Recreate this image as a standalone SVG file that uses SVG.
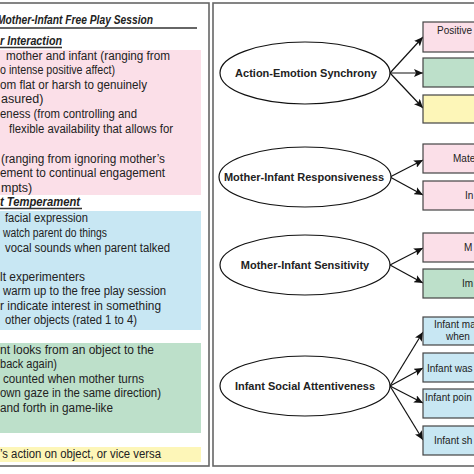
<svg xmlns="http://www.w3.org/2000/svg" width="474" height="474" viewBox="0 0 474 474">
<defs>
<marker id="ah" markerUnits="userSpaceOnUse" markerWidth="10" markerHeight="8" refX="9" refY="4" orient="auto">
<path d="M0,0 L9,4 L0,8 L2,4 Z" fill="#111"/>
</marker>
</defs>
<style>
.panel{fill:#fff;stroke:#666;stroke-width:1.6}
.t{font-family:"Liberation Sans",Arial,sans-serif;font-size:12.5px;fill:#222}
.h{font-family:"Liberation Sans",Arial,sans-serif;font-size:12.5px;font-weight:bold;font-style:italic;fill:#222}
.ul{stroke:#333;stroke-width:1.4}
.ell{fill:#fff;stroke:#111;stroke-width:1.2}
.et{font-family:"Liberation Sans",Arial,sans-serif;font-size:11px;font-weight:bold;fill:#222;text-anchor:middle}
.bx{stroke:#444;stroke-width:1.2}
.bt{font-family:"Liberation Sans",Arial,sans-serif;font-size:10px;fill:#222}
.pink{fill:#fbdfe8}
.blue{fill:#c8e7f3}
.green{fill:#bde0ca}
.yellow{fill:#fdf6b8}
.arr{stroke:#111;stroke-width:1.2;fill:none;marker-end:url(#ah)}
</style>
<rect width="474" height="474" fill="#fff"/>

<g id="left-panel">
<rect class="panel" x="-3" y="3" width="212" height="463"/>
<text class="h" x="-3" y="24" textLength="156" lengthAdjust="spacingAndGlyphs">Mother-Infant Free Play Session</text>
<line class="ul" x1="-2" y1="28" x2="197" y2="28"/>
<text class="h" x="0" y="45" textLength="62" lengthAdjust="spacingAndGlyphs">r Interaction</text>
<line class="ul" x1="0" y1="47.5" x2="62" y2="47.5"/>
<rect class="pink" x="-2" y="50" width="203" height="145"/>
<text class="t" x="6" y="60" textLength="164" lengthAdjust="spacingAndGlyphs">mother and infant (ranging from</text>
<text class="t" x="0" y="74" textLength="115" lengthAdjust="spacingAndGlyphs">o intense positive affect)</text>
<text class="t" x="0" y="89" textLength="147" lengthAdjust="spacingAndGlyphs">om flat or harsh to genuinely</text>
<text class="t" x="1" y="103">asured)</text>
<text class="t" x="0" y="118" textLength="137" lengthAdjust="spacingAndGlyphs">eness (from controlling and</text>
<text class="t" x="9" y="133" textLength="164" lengthAdjust="spacingAndGlyphs">flexible availability that allows for</text>
<text class="t" x="1" y="163" textLength="164" lengthAdjust="spacingAndGlyphs">(ranging from ignoring mother’s</text>
<text class="t" x="0" y="177" textLength="165" lengthAdjust="spacingAndGlyphs">ement to continual engagement</text>
<text class="t" x="1" y="192">mpts)</text>
<text class="h" x="0" y="206" textLength="80" lengthAdjust="spacingAndGlyphs">t Temperament</text>
<line class="ul" x1="0" y1="208.5" x2="82" y2="208.5"/>
<rect class="blue" x="-2" y="211" width="203" height="119"/>
<text class="t" x="5" y="222" textLength="83" lengthAdjust="spacingAndGlyphs">facial expression</text>
<text class="t" x="3" y="237" textLength="104" lengthAdjust="spacingAndGlyphs">watch parent do things</text>
<text class="t" x="5" y="252" textLength="165" lengthAdjust="spacingAndGlyphs">vocal sounds when parent talked</text>
<text class="t" x="0" y="281" textLength="85" lengthAdjust="spacingAndGlyphs">lt experimenters</text>
<text class="t" x="3" y="295" textLength="163" lengthAdjust="spacingAndGlyphs">warm up to the free play session</text>
<text class="t" x="0" y="310" textLength="161" lengthAdjust="spacingAndGlyphs">r indicate interest in something</text>
<text class="t" x="5" y="324" textLength="132" lengthAdjust="spacingAndGlyphs">other objects (rated 1 to 4)</text>
<rect class="green" x="-2" y="343" width="203" height="90"/>
<text class="t" x="0" y="354" textLength="154" lengthAdjust="spacingAndGlyphs">nt looks from an object to the</text>
<text class="t" x="0" y="368" textLength="57" lengthAdjust="spacingAndGlyphs">back again)</text>
<text class="t" x="3" y="383" textLength="141" lengthAdjust="spacingAndGlyphs">counted when mother turns</text>
<text class="t" x="0" y="397" textLength="161" lengthAdjust="spacingAndGlyphs">own gaze in the same direction)</text>
<text class="t" x="0" y="412" textLength="113" lengthAdjust="spacingAndGlyphs">and forth in game-like</text>
<rect class="yellow" x="-2" y="447" width="203" height="15"/>
<text class="t" x="0" y="458" textLength="161" lengthAdjust="spacingAndGlyphs">’s action on object, or vice versa</text>
</g>

<g id="right-panel">
<rect class="panel" x="213" y="3" width="265" height="463"/>
</g>

<g id="connectors">
<line class="arr" x1="390" y1="73" x2="423" y2="37"/>
<line class="arr" x1="390" y1="73" x2="423" y2="73"/>
<line class="arr" x1="390" y1="73" x2="423" y2="108"/>
<line class="arr" x1="390" y1="177" x2="423" y2="160"/>
<line class="arr" x1="390" y1="177" x2="423" y2="195"/>
<line class="arr" x1="390" y1="265" x2="423" y2="248"/>
<line class="arr" x1="390" y1="265" x2="423" y2="283"/>
<line class="arr" x1="390" y1="386" x2="423" y2="332"/>
<line class="arr" x1="390" y1="386" x2="423" y2="368"/>
<line class="arr" x1="390" y1="386" x2="423" y2="403"/>
<line class="arr" x1="390" y1="386" x2="423" y2="440"/>
</g>

<g id="n-action-emotion">
<ellipse class="ell" cx="305" cy="73" rx="85" ry="31"/>
<text class="et" x="306" y="77">Action-Emotion Synchrony</text>
</g>
<g id="n-responsiveness">
<ellipse class="ell" cx="305" cy="177" rx="86" ry="30"/>
<text class="et" x="304" y="181">Mother-Infant Responsiveness</text>
</g>
<g id="n-sensitivity">
<ellipse class="ell" cx="305" cy="265" rx="85" ry="30"/>
<text class="et" x="305" y="269">Mother-Infant Sensitivity</text>
</g>
<g id="n-attentiveness">
<ellipse class="ell" cx="305" cy="386" rx="85" ry="30"/>
<text class="et" x="305" y="390">Infant Social Attentiveness</text>
</g>

<g id="b-positive">
<rect class="bx pink" x="423" y="22" width="60" height="30"/>
<text class="bt" x="437" y="34">Positive</text>
</g>
<g id="b-green1">
<rect class="bx green" x="423" y="58" width="60" height="29"/>
</g>
<g id="b-yellow1">
<rect class="bx yellow" x="423" y="95" width="60" height="28"/>
</g>
<g id="b-maternal">
<rect class="bx pink" x="423" y="144" width="60" height="29"/>
<text class="bt" x="453" y="162">Mate</text>
</g>
<g id="b-infant-resp">
<rect class="bx pink" x="423" y="181" width="60" height="29"/>
<text class="bt" x="465" y="199">In</text>
</g>
<g id="b-m-sens">
<rect class="bx pink" x="423" y="233" width="60" height="29"/>
<text class="bt" x="464" y="251">M</text>
</g>
<g id="b-i-sens">
<rect class="bx green" x="423" y="269" width="60" height="29"/>
<text class="bt" x="462" y="287">Im</text>
</g>
<g id="b-infant-ma">
<rect class="bx blue" x="423" y="317" width="60" height="28"/>
<text class="bt" x="434" y="328">Infant ma</text>
<text class="bt" x="446" y="340">when</text>
</g>
<g id="b-infant-was">
<rect class="bx blue" x="423" y="353" width="60" height="29"/>
<text class="bt" x="427" y="372">Infant was</text>
</g>
<g id="b-infant-poin">
<rect class="bx blue" x="423" y="389" width="60" height="29"/>
<text class="bt" x="425" y="401">Infant poin</text>
</g>
<g id="b-infant-sh">
<rect class="bx blue" x="423" y="426" width="60" height="29"/>
<text class="bt" x="434" y="444">Infant sh</text>
</g>
</svg>
